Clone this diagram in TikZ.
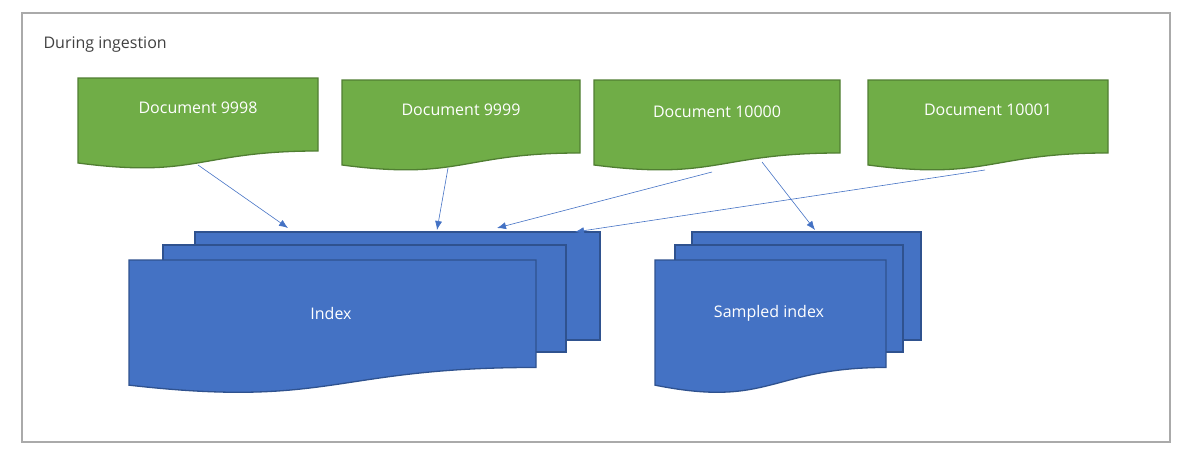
\documentclass[tikz,border=0pt]{standalone}
\usepackage{fontspec}
\setmainfont{Open Sans}
\begin{document}
\begin{tikzpicture}[x=1pt,y=-1pt,
  doc/.style={fill=green!50!black!0, fill={rgb,255:red,112;green,173;blue,71}, draw={rgb,255:red,80;green,126;blue,50}, line width=1.3pt},
  idx/.style={fill={rgb,255:red,68;green,114;blue,196}, draw={rgb,255:red,47;green,82;blue,143}, line width=1.3pt},
  lbl/.style={text=white, font=\fontsize{16}{18}\selectfont},
  arr/.style={draw={rgb,255:red,68;green,114;blue,196}, line width=0.6pt, -{Latex[length=9pt,width=7pt]}}]
\usetikzlibrary{arrows.meta}
\useasboundingbox (0,0) rectangle (1191,460);
\draw[draw={rgb,255:red,170;green,170;blue,170}, line width=1.5pt] (22,13) rectangle (1170,442);
\node[anchor=west, font=\fontsize{16}{18}\selectfont, text={rgb,255:red,64;green,64;blue,64}] (title) at (40,45) {During ingestion};
% document shape macro
\def\docshape#1#2#3#4#5{% x y w h style
  \path[#5] (#1,#2) -- ++(#3,0) -- (#1+#3,#2+0.802*#4) .. controls (#1+0.5*#3,#2+0.802*#4) and (#1+0.5*#3,#2+1.107*#4) .. (#1,#2+0.934*#4) -- cycle;}
\docshape{78}{78}{240}{91}{doc}
\docshape{342}{80}{238}{91}{doc}
\docshape{594}{80}{246}{91}{doc}
\docshape{868}{80}{240}{91}{doc}
\node[lbl] (d1) at (198,108) {Document 9998};
\node[lbl] (d2) at (461,110) {Document 9999};
\node[lbl] (d3) at (717,112) {Document 10000};
\node[lbl] (d4) at (988,110) {Document 10001};
% index
\path[idx] (195,232) rectangle (600,340);
\path[idx] (163,245) rectangle (566,352);
\docshape{129}{260}{407}{134}{idx}
\node[lbl] (index) at (331,313) {Index};
\path[idx] (692,232) rectangle (921,340);
\path[idx] (675,245) rectangle (903,352);
\docshape{655}{260}{231}{134}{idx}
\node[lbl] (sampled) at (769,313) {Sampled index};
\coordinate (a1) at (198,165); \coordinate (b1) at (288,228);
\coordinate (a2) at (448,168); \coordinate (b2) at (437,230);
\coordinate (a3) at (712,172); \coordinate (b3) at (497,228);
\coordinate (a4) at (762,162); \coordinate (b4) at (815,230);
\coordinate (a5) at (985,170); \coordinate (b5) at (575,232);
\foreach \i in {1,...,5} \draw[arr] (a\i) -- (b\i);
\end{tikzpicture}
\end{document}
